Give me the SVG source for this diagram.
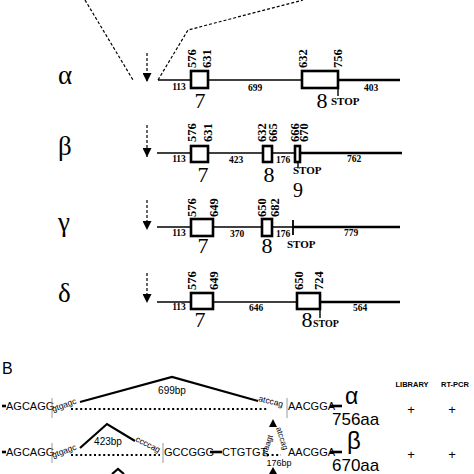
<svg xmlns="http://www.w3.org/2000/svg" width="474" height="474" viewBox="0 0 474 474">
<style>
.bg{fill:#fff}
.thin{stroke:#000;stroke-width:1.4;fill:none}
.thick{stroke:#000;stroke-width:2.6;fill:none}
.exon{fill:#fff;stroke:#000;stroke-width:2.6}
.tick{stroke:#000;stroke-width:1.4}
.dash{stroke:#000;stroke-width:1.2;stroke-dasharray:3 2;fill:none}
.pos{font-family:"Liberation Serif",serif;font-weight:bold;font-size:12.5px;fill:#000}
.len{font-family:"Liberation Serif",serif;font-weight:bold;font-size:9.5px;fill:#000;text-anchor:middle}
.ex{font-family:"Liberation Serif",serif;font-size:22px;fill:#000;text-anchor:middle}
.stop{font-family:"Liberation Serif",serif;font-weight:bold;font-size:11px;fill:#000}
.greek{font-family:"Liberation Serif",serif;font-size:27px;fill:#000}
.seq{font-family:"Liberation Sans",Arial,sans-serif;font-size:11px;fill:#000}
.sm{font-family:"Liberation Sans",Arial,sans-serif;font-size:8.5px;fill:#000}
.bp{font-family:"Liberation Sans",Arial,sans-serif;font-size:10px;fill:#000;text-anchor:middle}
.hdr{font-family:"Liberation Sans",Arial,sans-serif;font-weight:bold;font-size:7.5px;fill:#000;text-anchor:middle}
.plus{font-family:"Liberation Sans",Arial,sans-serif;font-size:13px;fill:#000;text-anchor:middle}
.gray{stroke:#999;stroke-width:1}
.sol{stroke:#000;stroke-width:2.2;fill:none}
.dot{stroke:#000;stroke-width:2;stroke-dasharray:2 2.6;fill:none}
.bar{stroke:#000;stroke-width:2.6}
</style>
<defs>
<marker id="ah" markerWidth="9" markerHeight="9" refX="9" refY="4.5" orient="auto" markerUnits="userSpaceOnUse" viewBox="0 0 9 9">
<path d="M0,0 L9,4.5 L0,9 Z" fill="#000"/>
</marker>
</defs>
<rect class="bg" x="0" y="0" width="474" height="474"/>

<g id="connectors">
<path class="dash" d="M85,0 L133,80"/>
<path class="dash" d="M158,80 L188,30 L303,0"/>
<line class="dash" x1="147" y1="53" x2="147" y2="82" marker-end="url(#ah)"/>
<line class="dash" x1="147" y1="125" x2="147" y2="157" marker-end="url(#ah)"/>
<line class="dash" x1="147" y1="200" x2="147" y2="230" marker-end="url(#ah)"/>
<line class="dash" x1="147" y1="273" x2="147" y2="303" marker-end="url(#ah)"/>
</g>

<g id="label-alpha"><text class="greek" x="58" y="84">α</text></g>
<g id="label-beta"><text class="greek" x="58" y="155">β</text></g>
<g id="label-gamma"><text class="greek" x="58" y="231">γ</text></g>
<g id="label-delta"><text class="greek" x="58" y="302">δ</text></g>

<g id="isoform-alpha">
<line class="thin" x1="158" y1="80" x2="338" y2="80"/>
<line class="thick" x1="338" y1="80" x2="400" y2="80"/>
<rect class="exon" x="191" y="71" width="17" height="17"/>
<rect class="exon" x="302" y="71" width="36" height="17"/>
<line class="tick" x1="338" y1="88" x2="338" y2="96"/>
<text class="pos" transform="translate(196,68) rotate(-90)">576</text>
<text class="pos" transform="translate(211,68) rotate(-90)">631</text>
<text class="pos" transform="translate(307,68) rotate(-90)">632</text>
<text class="pos" transform="translate(342,68) rotate(-90)">756</text>
<text class="len" x="179" y="90">113</text>
<text class="len" x="255" y="91">699</text>
<text class="len" x="371" y="91">403</text>
<text class="ex" x="200" y="108">7</text>
<text class="ex" x="322" y="108">8</text>
<text class="stop" x="331" y="105">STOP</text>
</g>

<g id="isoform-beta">
<line class="thin" x1="157" y1="153" x2="300" y2="153"/>
<line class="thick" x1="300" y1="153" x2="402" y2="153"/>
<rect class="exon" x="191" y="146" width="17" height="16"/>
<rect class="exon" x="263" y="146" width="9" height="16"/>
<rect class="exon" x="295" y="146" width="5" height="16"/>
<line class="tick" x1="298" y1="162" x2="298" y2="168"/>
<text class="pos" transform="translate(196,142) rotate(-90)">576</text>
<text class="pos" transform="translate(212,142) rotate(-90)">631</text>
<text class="pos" transform="translate(266,142) rotate(-90)">632</text>
<text class="pos" transform="translate(277,142) rotate(-90)">665</text>
<text class="pos" transform="translate(299,142) rotate(-90)">666</text>
<text class="pos" transform="translate(308,142) rotate(-90)">670</text>
<text class="len" x="179" y="162">113</text>
<text class="len" x="236" y="163">423</text>
<text class="len" x="283" y="163">176</text>
<text class="len" x="354" y="162">762</text>
<text class="ex" x="203" y="182">7</text>
<text class="ex" x="269" y="182">8</text>
<text class="stop" x="293" y="174">STOP</text>
<text class="ex" x="298" y="197" style="font-size:20px">9</text>
</g>

<g id="isoform-gamma">
<line class="thin" x1="157" y1="227" x2="293" y2="227"/>
<line class="thick" x1="293" y1="227" x2="400" y2="227"/>
<rect class="exon" x="191" y="219" width="22" height="17"/>
<rect class="exon" x="262" y="219" width="10" height="17"/>
<line class="thick" x1="293" y1="220" x2="293" y2="235" style="stroke-width:1.8"/>
<text class="pos" transform="translate(196,217) rotate(-90)">576</text>
<text class="pos" transform="translate(218,217) rotate(-90)">649</text>
<text class="pos" transform="translate(266,217) rotate(-90)">650</text>
<text class="pos" transform="translate(279,217) rotate(-90)">682</text>
<text class="len" x="179" y="236">113</text>
<text class="len" x="237" y="237">370</text>
<text class="len" x="283" y="237">176</text>
<text class="len" x="351" y="236">779</text>
<text class="ex" x="203" y="253">7</text>
<text class="ex" x="267" y="253">8</text>
<text class="stop" x="287" y="248">STOP</text>
</g>

<g id="isoform-delta">
<line class="thin" x1="157" y1="302" x2="320" y2="302"/>
<line class="thick" x1="320" y1="302" x2="400" y2="302"/>
<rect class="exon" x="191" y="293" width="22" height="16"/>
<rect class="exon" x="297" y="293" width="23" height="16"/>
<line class="tick" x1="320" y1="309" x2="320" y2="318"/>
<text class="pos" transform="translate(196,290) rotate(-90)">576</text>
<text class="pos" transform="translate(218,290) rotate(-90)">649</text>
<text class="pos" transform="translate(303,290) rotate(-90)">650</text>
<text class="pos" transform="translate(323,290) rotate(-90)">724</text>
<text class="len" x="179" y="310">113</text>
<text class="len" x="256" y="311">646</text>
<text class="len" x="360" y="311">564</text>
<text class="ex" x="200" y="327">7</text>
<text class="ex" x="307" y="327">8</text>
<text class="stop" x="313" y="327" style="font-size:10px">STOP</text>
</g>

<g id="panel-b-label"><text x="2" y="374" style="font-family:'Liberation Sans',Arial,sans-serif;font-size:16px">B</text></g>

<g id="header">
<text class="hdr" x="412" y="387">LIBRARY</text>
<text class="hdr" x="455" y="387">RT-PCR</text>
</g>

<g id="splice-alpha">
<line class="bar" x1="2" y1="406" x2="6" y2="406"/>
<text class="seq" x="6" y="410">AGCAGG</text>
<line class="gray" x1="52" y1="398" x2="52" y2="418"/>
<text class="sm" transform="translate(53,412) rotate(-20)">gtgagc</text>
<path class="sol" d="M80,402 L172,377 L258,401"/>
<text class="bp" x="172" y="394">699bp</text>
<line class="dot" x1="71" y1="409" x2="267" y2="409"/>
<text class="sm" transform="translate(258,401) rotate(14)">atccag</text>
<line class="gray" x1="287" y1="398" x2="287" y2="418"/>
<text class="seq" x="288" y="410">AACGGA</text>
<line class="bar" x1="330" y1="406" x2="342" y2="406"/>
<text x="345" y="404" style="font-family:'Liberation Sans',Arial,sans-serif;font-size:23px">α</text>
<text x="332" y="425" style="font-family:'Liberation Sans',Arial,sans-serif;font-size:17px">756aa</text>
<text class="plus" x="411" y="414">+</text>
<text class="plus" x="452" y="414">+</text>
</g>

<g id="splice-beta">
<line class="bar" x1="2" y1="452" x2="6" y2="452"/>
<text class="seq" x="6" y="456">AGCAGG</text>
<line class="gray" x1="52" y1="443" x2="52" y2="463"/>
<text class="sm" transform="translate(53,458) rotate(-20)">gtgagc</text>
<path class="sol" d="M80,448 L107,424 L135,441"/>
<text class="bp" x="108" y="445">423bp</text>
<line class="dot" x1="71" y1="455" x2="160" y2="455"/>
<text class="sm" transform="translate(135,441) rotate(27)">ccccag</text>
<line class="gray" x1="163" y1="443" x2="163" y2="463"/>
<text class="seq" x="164" y="456">GCCGGG</text>
<line class="bar" x1="210" y1="452" x2="222" y2="452"/>
<text class="seq" x="222" y="456">CTGTGT</text>
<text class="sm" transform="translate(266,457) rotate(-72)" style="font-size:8px">gtaagt</text>
<path d="M273,419 L269,427 L277,427 Z" fill="#000"/>
<text class="sm" transform="translate(276,428) rotate(72)" style="font-size:8px">atccag</text>
<line class="dot" x1="267" y1="455" x2="281" y2="455" style="stroke-width:1.8"/>
<text class="bp" x="279" y="466" style="font-size:9px">176bp</text>
<text class="seq" x="288" y="456">AACGGA</text>
<line class="bar" x1="330" y1="452" x2="342" y2="452"/>
<text x="347" y="449" style="font-family:'Liberation Sans',Arial,sans-serif;font-size:24px">β</text>
<text x="332" y="471" style="font-family:'Liberation Sans',Arial,sans-serif;font-size:17px">670aa</text>
<text class="plus" x="411" y="459">+</text>
<text class="plus" x="452" y="459">+</text>
</g>

<g id="cutoff">
<path class="sol" d="M112,474 L118,469 L124,474"/>
<path d="M273,467 L269,474 L277,474 Z" fill="#000"/>
</g>
</svg>
